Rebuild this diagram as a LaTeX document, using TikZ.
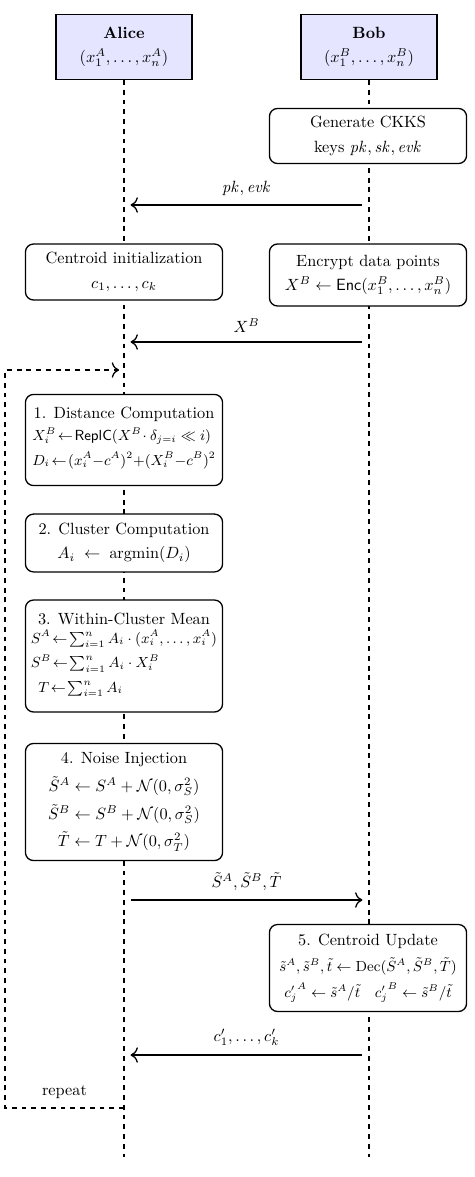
\documentclass[tikz,border=0pt]{standalone}
\usepackage{amsmath,amssymb}
\usepackage{xcolor}
\usepackage{tikz}
\usetikzlibrary{arrows.meta, positioning, calc, backgrounds}

\newcommand{\fsmall}{\fontsize{9pt}{15pt}\selectfont}

\begin{document}
\begin{tikzpicture}[
    x=0.0216cm, y=-0.0216cm,
    every node/.style={font=\fontsize{10pt}{15pt}\selectfont},
    actor/.style={rectangle, draw, thick, fill=blue!10, minimum width=2.94cm,
                  minimum height=1.40cm, align=center},
    proc/.style={rectangle, rounded corners=5pt, draw, thick, fill=white,
                 minimum width=4.26cm, minimum height=#1, align=center, inner sep=2pt},
    life/.style={dashed, thick},
    msg/.style={-{To[length=1.6mm]}, thick, shorten <=4pt, shorten >=4pt},
    loopline/.style={-{To[length=1.6mm]}, dashed, thick},
]
    \useasboundingbox (0,0) rectangle (474,1177);

    \node[actor] (alice) at (124,47) {\textbf{Alice}\\$(x_1^A,\ldots,x_n^A)$};
    \node[actor] (bob) at (369,47) {\textbf{Bob}\\$(x_1^B,\ldots,x_n^B)$};

    \node[proc=1.19cm] (gen) at (368,136) {Generate CKKS\\keys $\mathit{pk},\mathit{sk},\mathit{evk}$};

    \node[proc=1.21cm] (init) at (124,272) {Centroid initialization\\$c_1,\ldots,c_k$};
    \node[proc=1.34cm] (enc) at (368,275) {Encrypt data points\\$X^B \leftarrow \mathsf{Enc}(x_1^B,\ldots,x_n^B)$};

    \node[proc=1.97cm] (dist) at (124,440) {1. Distance Computation\\
        {\fsmall\begin{tabular}{@{}l@{}}
        $X_i^B\!\leftarrow\!\mathsf{ReplC}(X^B\!\cdot\delta_{j=i}\ll i)$\\
        $D_i\!\leftarrow\!(x_i^A{-}c^A)^2{+}(X_i^B{-}c^B)^2$
        \end{tabular}}};
    \node[proc=1.25cm] (clus) at (124,543) {2. Cluster Computation\\$A_i \;\leftarrow\; \mathrm{argmin}(D_i)$};
    \node[proc=2.42cm] (mean) at (124,656) {3. Within-Cluster Mean\\
        {\fsmall\begin{tabular}{@{}l@{}}
        $S^A\!\leftarrow\!\sum_{i=1}^n A_i\cdot(x_i^A,\ldots,x_i^A)$\\
        $S^B\!\leftarrow\!\sum_{i=1}^n A_i\cdot X_i^B$\\
        \ \,$T\!\leftarrow\!\sum_{i=1}^n A_i$
        \end{tabular}}};
    \node[proc=2.53cm] (noise) at (124,802) {4. Noise Injection\\[2pt]
        $\tilde S^A \leftarrow S^A + \mathcal{N}(0,\sigma_S^2)$\\[2pt]
        $\tilde S^B \leftarrow S^B + \mathcal{N}(0,\sigma_S^2)$\\[2pt]
        $\tilde T \leftarrow T + \mathcal{N}(0,\sigma_T^2)$};

    \node[proc=1.88cm] (upd) at (368,968) {5. Centroid Update\\[1pt]
        {\fsmall$\tilde s^A,\tilde s^B,\tilde t \leftarrow \mathrm{Dec}(\tilde S^A,\tilde S^B,\tilde T)$}\\[1pt]
        {\fsmall${c'_j}^A \leftarrow \tilde s^A/\tilde t \quad {c'_j}^B \leftarrow \tilde s^B/\tilde t$}};

    % lifeline ends and message points
    \coordinate (a-end) at (124,1157);
    \coordinate (b-end) at (369,1157);
    \coordinate (a1) at (124,205);  \coordinate (b1) at (369,205);
    \coordinate (a2) at (124,342);  \coordinate (b2) at (369,342);
    \coordinate (a3) at (124,900);  \coordinate (b3) at (369,900);
    \coordinate (a4) at (124,1055); \coordinate (b4) at (369,1055);
    \coordinate (rep-top) at (124,370);
    \coordinate (rep-bot) at (124,1108);
    \coordinate (rep-lt) at (5,370);
    \coordinate (rep-lb) at (5,1108);

    \begin{scope}[on background layer]
        \draw[life] (alice) -- (a-end);
        \draw[life] (bob) -- (b-end);
    \end{scope}

    \draw[msg] (b1) -- node[above=2pt] {$\mathit{pk},\mathit{evk}$} (a1);
    \draw[msg] (b2) -- node[above=2pt] {$X^B$} (a2);
    \draw[msg] (a3) -- node[above=2pt] {$\tilde S^A,\tilde S^B,\tilde T$} (b3);
    \draw[msg] (b4) -- node[above=2pt] {$c'_1,\ldots,c'_k$} (a4);

    \draw[loopline] (rep-bot) -- node[above=2pt] {repeat} (rep-lb) -- (rep-lt) -- ([xshift=-3pt]rep-top);
\end{tikzpicture}
\end{document}
